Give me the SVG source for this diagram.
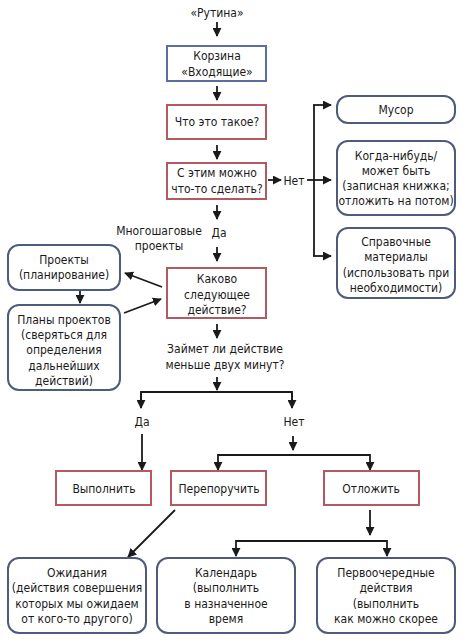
<svg xmlns="http://www.w3.org/2000/svg" width="463" height="640" viewBox="0 0 463 640">
<style>
text{font-family:"DejaVu Sans Condensed","Roboto Condensed","Liberation Sans Narrow","Liberation Sans",sans-serif;font-stretch:condensed;font-size:12px;fill:#1a1a1a;text-anchor:middle}
.blue{fill:#fff;stroke:#5a6ea3;stroke-width:2}
.red{fill:#fff;stroke:#b25a60;stroke-width:2}
.round{fill:#fff;stroke:#4f5b7a;stroke-width:2}
.c{fill:none;stroke:#1a1a1a;stroke-width:1.8}
.a{fill:none;stroke:#1a1a1a;stroke-width:1.8;marker-end:url(#ah)}
</style>
<defs>
<marker id="ah" viewBox="0 0 10 10" refX="9" refY="5" markerWidth="5" markerHeight="5" markerUnits="strokeWidth" orient="auto">
<path d="M0,0 L10,5 L0,10 z" fill="#1a1a1a"/>
</marker>
</defs>
<rect width="463" height="640" fill="#fff"/>
<g id="connectors">
<line class="a" x1="217" y1="22" x2="217" y2="36"/>
<line class="a" x1="217" y1="86" x2="217" y2="100"/>
<line class="a" x1="217" y1="145" x2="217" y2="159"/>
<line class="a" x1="268" y1="180" x2="281" y2="180"/>
<line class="a" x1="307" y1="180" x2="331" y2="180"/>
<polyline class="c" points="314,105 314,256"/>
<line class="a" x1="313" y1="105" x2="331" y2="105"/>
<line class="a" x1="313" y1="256" x2="331" y2="256"/>
<line class="a" x1="217" y1="205" x2="217" y2="219"/>
<line class="a" x1="217" y1="247" x2="217" y2="261"/>
<line class="a" x1="162" y1="287" x2="125" y2="273"/>
<line class="a" x1="80" y1="290" x2="80" y2="303"/>
<line class="a" x1="124" y1="313" x2="161" y2="299"/>
<line class="a" x1="217" y1="324" x2="217" y2="338"/>
<line class="a" x1="217" y1="377" x2="217" y2="390"/>
<polyline class="c" points="141,408 141,392 292,392 292,408"/>
<line class="a" x1="141" y1="393" x2="141" y2="408"/>
<line class="a" x1="292" y1="393" x2="292" y2="408"/>
<line class="a" x1="293" y1="436" x2="293" y2="450"/>
<line class="a" x1="142" y1="434" x2="142" y2="470"/>
<polyline class="c" points="218,455 370,455"/>
<line class="a" x1="218" y1="454" x2="218" y2="470"/>
<line class="a" x1="370" y1="454" x2="370" y2="470"/>
<line class="a" x1="175" y1="510" x2="128" y2="557"/>
<line class="a" x1="370" y1="510" x2="370" y2="535"/>
<polyline class="c" points="236,541 387,541"/>
<line class="a" x1="236" y1="540" x2="236" y2="556"/>
<line class="a" x1="387" y1="540" x2="387" y2="556"/>
</g>
<g id="routine"><text x="217" y="17">«Рутина»</text></g>
<g id="inbox"><rect class="blue" x="167" y="46" width="99" height="35"/><text x="217" y="60">Корзина</text><text x="217" y="76">«Входящие»</text></g>
<g id="what"><rect class="red" x="167" y="105" width="99" height="34"/><text x="217" y="126">Что это такое?</text></g>
<g id="actionable"><rect class="red" x="167" y="163" width="99" height="36"/><text x="217" y="177">С этим можно</text><text x="217" y="193">что-то сделать?</text></g>
<g id="no1"><text x="294" y="185">Нет</text></g>
<g id="trash"><rect class="round" x="337" y="96" width="118" height="27" rx="11"/><text x="396" y="114">Мусор</text></g>
<g id="someday"><rect class="round" x="337" y="141" width="118" height="74" rx="11"/><text x="396" y="160">Когда-нибудь/</text><text x="396" y="175">может быть</text><text x="396" y="190">(записная книжка;</text><text x="396" y="205">отложить на потом)</text></g>
<g id="reference"><rect class="round" x="337" y="228" width="118" height="70" rx="11"/><text x="396" y="246">Справочные</text><text x="396" y="261">материалы</text><text x="396" y="277">(использовать при</text><text x="396" y="292">необходимости)</text></g>
<g id="multistep"><text x="159" y="235">Многошаговые</text><text x="159" y="250">проекты</text></g>
<g id="yes1"><text x="219" y="237">Да</text></g>
<g id="next"><rect class="red" x="167" y="268" width="99" height="50"/><text x="217" y="283">Каково</text><text x="217" y="299">следующее</text><text x="217" y="314">действие?</text></g>
<g id="projects"><rect class="round" x="8" y="245" width="112" height="45" rx="11"/><text x="64" y="264">Проекты</text><text x="64" y="279">(планирование)</text></g>
<g id="plans"><rect class="round" x="8" y="305" width="112" height="85" rx="11"/><text x="64" y="324">Планы проектов</text><text x="64" y="339">(сверяться для</text><text x="64" y="354">определения</text><text x="64" y="370">дальнейших</text><text x="64" y="385">действий)</text></g>
<g id="twomin"><text x="225" y="353">Займет ли действие</text><text x="225" y="369">меньше двух минут?</text></g>
<g id="yes2"><text x="142" y="426">Да</text></g>
<g id="no2"><text x="294" y="426">Нет</text></g>
<g id="do"><rect class="red" x="56" y="471" width="95" height="34"/><text x="104" y="493">Выполнить</text></g>
<g id="delegate"><rect class="red" x="171" y="471" width="95" height="34"/><text x="219" y="493">Перепоручить</text></g>
<g id="defer"><rect class="red" x="324" y="471" width="95" height="34"/><text x="371" y="493">Отложить</text></g>
<g id="waiting"><rect class="round" x="8" y="558" width="138" height="75" rx="11"/><text x="77" y="577">Ожидания</text><text x="77" y="592">(действия совершения</text><text x="77" y="608">которых мы ожидаем</text><text x="77" y="623">от кого-то другого)</text></g>
<g id="calendar"><rect class="round" x="157" y="558" width="138" height="75" rx="11"/><text x="226" y="577">Календарь</text><text x="226" y="592">(выполнить</text><text x="226" y="608">в назначенное</text><text x="226" y="623">время</text></g>
<g id="nextactions"><rect class="round" x="317" y="558" width="138" height="75" rx="11"/><text x="386" y="577">Первоочередные</text><text x="386" y="592">действия</text><text x="386" y="608">(выполнить</text><text x="386" y="623">как можно скорее</text></g>
</svg>
